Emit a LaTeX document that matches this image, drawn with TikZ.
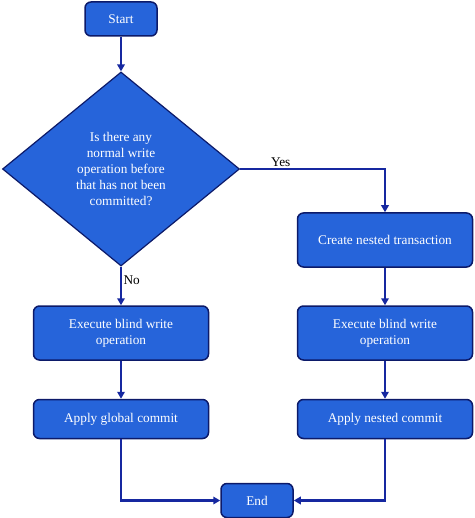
\documentclass[tikz,border=0pt]{standalone}
\usepackage{xcolor}
\usepackage{fontspec}
\setmainfont{Liberation Serif}
\usetikzlibrary{shapes.geometric, arrows.meta, positioning}

\definecolor{boxblue}{RGB}{38,100,218}
\definecolor{edgeblue}{RGB}{12,26,105}
\definecolor{lineblue}{RGB}{22,40,160}

\tikzset{
    stepbox/.style={rectangle, rounded corners=6pt, draw=edgeblue, line width=1.5pt,
        fill=boxblue, text=white, align=center, inner sep=2pt,
        font=\fontsize{13.3}{16}\selectfont},
    widebox/.style={stepbox, minimum width=175pt, minimum height=54pt},
    flatbox/.style={stepbox, minimum width=175pt, minimum height=39pt},
    endbox/.style={stepbox, minimum width=72pt, minimum height=34pt},
    choice/.style={diamond, draw=edgeblue, line width=1.2pt, fill=boxblue, text=white,
        align=center, inner sep=0pt, aspect=1.22, minimum width=237pt, minimum height=194pt,
        font=\fontsize{13.3}{16}\selectfont},
    flow/.style={draw=lineblue, line width=2.2pt, -{Triangle[length=7pt,width=7.5pt]}},
    answer/.style={font=\fontsize{13.3}{16}\selectfont, text=black, inner sep=1.5pt}
}

\begin{document}
\begin{tikzpicture}[x=1pt, y=1pt]
    \useasboundingbox (0,0) rectangle (474,-518);

    % Nodes
    \node (start) [endbox] at (121,-19) {Start};
    \node (check) [choice] at (121,-169) {Is there any\\normal write\\operation before\\that has not been\\committed?};
    \node (nested) [widebox] at (385,-240) {Create nested transaction};
    \node (blindl) [widebox] at (121,-333) {Execute blind write\\operation};
    \node (blindr) [widebox] at (385,-333) {Execute blind write\\operation};
    \node (globalc) [flatbox] at (121,-419) {Apply global commit};
    \node (nestedc) [flatbox] at (385,-419) {Apply nested commit};
    \node (end) [endbox] at (257,-500.5) {End};

    % Connectors
    \draw [flow] (start) -- (check);
    \draw [flow] (check.east) -| node [answer, pos=0.14, above] {Yes} (nested);
    \draw [flow] (check.south) -- node [answer, pos=0.36, right] {No} (blindl);
    \draw [flow] (nested) -- (blindr);
    \draw [flow] (blindl) -- (globalc);
    \draw [flow] (blindr) -- (nestedc);
    \draw [flow] (globalc) |- (end);
    \draw [flow] (nestedc) |- (end);

\end{tikzpicture}
\end{document}
